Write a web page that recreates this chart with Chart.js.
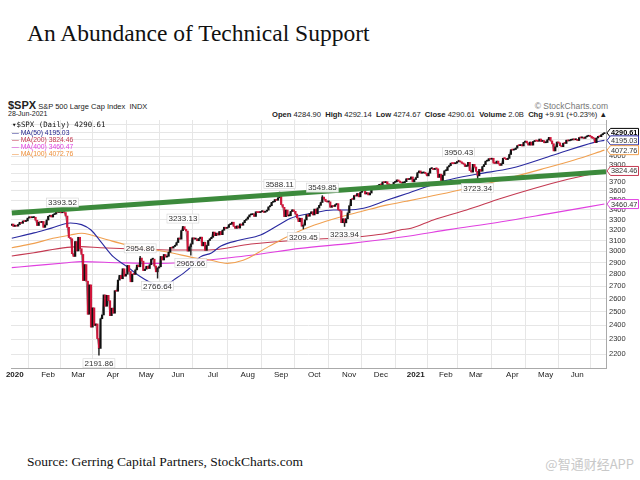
<!DOCTYPE html>
<html>
<head>
<meta charset="utf-8">
<script src="https://cdn.jsdelivr.net/npm/chart.js@4.4.0/dist/chart.umd.min.js"></script>
<style>
body { margin: 0; width: 640px; height: 480px; background: #fff; position: relative; overflow: hidden; font-family: "Liberation Sans", Arial, sans-serif; }
.abs { position: absolute; white-space: nowrap; }
#title { left: 27px; top: 20px; font: 23.5px "Liberation Serif", serif; color: #111; }
#source { left: 27px; top: 454px; font: 13.5px "Liberation Serif", serif; color: #111; }
#mark { right: 6px; top: 454px; font: 13px "Noto Sans CJK SC", sans-serif; color: #c8c8c8; }
#sym { left: 8px; top: 99px; font-size: 7.5px; color: #222; }
#sym b { font-size: 11px; }
#date { left: 8px; top: 110px; font-size: 7px; color: #222; }
#ohlc { right: 33px; top: 110px; font-size: 7.6px; color: #222; }
#copy { right: 32px; top: 101px; font-size: 8.5px; color: #777; }
#leg { left: 12px; top: 120px; line-height: 7px; z-index: 2; }
#leg .p { font: 7.4px "DejaVu Sans Mono", monospace; color: #111; }
#leg .m { font-size: 6.8px; }
#chart { position: absolute; left: 0; top: 100px; }
</style>
</head>
<body>
<div id="title" class="abs">An Abundance of Technical Support</div>
<div id="sym" class="abs"><b>$SPX</b> S&amp;P 500 Large Cap Index &nbsp;INDX</div>
<div id="date" class="abs">28-Jun-2021</div>
<div id="copy" class="abs">© StockCharts.com</div>
<div id="ohlc" class="abs"><b>Open</b> 4284.90 &nbsp;<b>High</b> 4292.14 &nbsp;<b>Low</b> 4274.67 &nbsp;<b>Close</b> 4290.61 &nbsp;<b>Volume</b> 2.0B &nbsp;<b>Chg</b> +9.91 (+0.23%) ▲</div>
<div id="leg" class="abs">
  <div class="p">▾$SPX (Daily) 4290.61</div>
  <div class="m" style="color:#1f1f8a">— MA(50) 4195.03</div>
  <div class="m" style="color:#c43a52">— MA(200) 3824.46</div>
  <div class="m" style="color:#e040e0">— MA(400) 3460.47</div>
  <div class="m" style="color:#ee8f3a">— MA(100) 4072.76</div>
</div>
<canvas id="chart" width="640" height="294"></canvas>
<div id="source" class="abs">Source: Gerring Capital Partners, StockCharts.com</div>
<div id="mark" class="abs">@智通财经APP</div>

<script>
// daily closes, trading day index 0 = 2-Jan-2020 ... 374 = 28-Jun-2021
const firstOpen = 3244.67;
const closes = [
  // Jan 2020
  3257.85, 3234.85, 3246.28, 3237.18, 3253.05, 3274.70, 3265.35, 3288.13, 3283.15, 3289.29, 3316.81,
  3329.62, 3320.79, 3321.75, 3325.54, 3295.47, 3243.63, 3276.24, 3273.40, 3283.66, 3225.52,
  // Feb
  3248.92, 3297.59, 3334.69, 3345.78, 3327.71, 3352.09, 3357.75, 3379.45, 3373.94, 3380.16,
  3370.29, 3386.15, 3373.23, 3337.75, 3225.89, 3128.21, 3116.39, 2978.76, 2954.22,
  // Mar
  3090.23, 3003.37, 3130.12, 3023.94, 2972.37, 2746.56, 2882.23, 2741.38, 2480.64, 2711.02, 2386.13,
  2529.19, 2398.10, 2409.39, 2304.92, 2237.40, 2447.33, 2475.56, 2630.07, 2541.47, 2626.65, 2584.59,
  // Apr
  2470.50, 2526.90, 2488.65, 2663.68, 2659.41, 2749.98, 2789.82, 2761.63, 2846.06, 2783.36, 2799.55,
  2874.56, 2823.16, 2736.56, 2799.31, 2797.80, 2836.74, 2878.48, 2863.39, 2939.51, 2912.43,
  // May
  2830.71, 2842.74, 2868.44, 2848.42, 2881.19, 2929.80, 2930.19, 2870.12, 2820.00, 2852.50,
  2863.70, 2953.91, 2922.94, 2971.61, 2948.51, 2955.45, 2991.77, 3036.13, 3029.73, 3044.31,
  // Jun
  3055.73, 3080.82, 3122.87, 3112.35, 3193.93, 3232.39, 3207.18, 3190.14, 3002.10, 3041.31, 3066.59,
  3124.74, 3113.49, 3115.34, 3097.74, 3117.86, 3131.29, 3050.33, 3083.76, 3009.05, 3053.24, 3100.29,
  // Jul
  3115.86, 3130.01, 3179.72, 3145.32, 3169.94, 3152.05, 3185.04, 3155.22, 3197.52, 3226.56, 3215.57,
  3224.73, 3251.84, 3257.30, 3276.02, 3235.66, 3215.63, 3239.41, 3218.44, 3258.44, 3246.22, 3271.12,
  // Aug
  3294.61, 3306.51, 3327.77, 3349.16, 3351.28, 3360.47, 3333.69, 3380.35, 3373.43, 3372.85, 3381.99,
  3389.78, 3374.85, 3385.51, 3397.16, 3431.28, 3443.62, 3478.73, 3484.55, 3508.01, 3500.31,
  // Sep
  3526.65, 3580.84, 3455.06, 3426.96, 3331.84, 3398.96, 3339.19, 3340.97, 3383.54, 3401.20, 3385.49,
  3357.01, 3319.47, 3281.06, 3315.57, 3236.92, 3246.59, 3298.46, 3351.60, 3335.47, 3363.00,
  // Oct
  3380.80, 3348.42, 3408.60, 3360.97, 3419.44, 3446.83, 3477.14, 3534.22, 3511.93, 3488.67, 3483.34,
  3483.81, 3426.92, 3443.12, 3435.56, 3453.49, 3465.39, 3400.97, 3390.68, 3271.03, 3310.11, 3269.96,
  // Nov
  3310.24, 3369.16, 3443.44, 3510.45, 3509.44, 3550.50, 3545.53, 3572.66, 3537.01, 3585.15,
  3626.91, 3609.53, 3567.79, 3581.87, 3557.54, 3577.59, 3635.41, 3629.65, 3638.35, 3621.63,
  // Dec
  3662.45, 3669.01, 3666.72, 3699.12, 3691.96, 3702.25, 3672.82, 3668.10, 3663.46, 3647.49, 3694.62,
  3701.17, 3722.48, 3709.41, 3694.92, 3687.26, 3690.01, 3703.06, 3735.36, 3727.04, 3732.04, 3756.07,
  // Jan 2021
  3700.65, 3726.86, 3748.14, 3803.79, 3824.68, 3799.61, 3801.19, 3809.84, 3795.54, 3768.25,
  3798.91, 3851.85, 3853.07, 3841.47, 3855.36, 3849.62, 3750.77, 3787.38, 3714.24,
  // Feb
  3773.86, 3826.31, 3830.17, 3871.74, 3886.83, 3915.59, 3911.23, 3909.88, 3916.38, 3934.83,
  3932.59, 3931.33, 3913.97, 3906.71, 3876.50, 3881.37, 3925.43, 3829.34, 3811.15,
  // Mar
  3901.82, 3870.29, 3819.72, 3768.47, 3841.94, 3821.35, 3875.44, 3898.81, 3939.34, 3943.34, 3968.94, 3962.71,
  3974.12, 3915.46, 3913.10, 3940.59, 3910.52, 3889.14, 3909.52, 3974.54, 3971.09, 3958.55, 3972.89,
  // Apr
  4019.87, 4077.91, 4073.94, 4079.95, 4097.17, 4128.80, 4127.99, 4141.59, 4124.66, 4170.42, 4185.47,
  4163.26, 4134.94, 4173.42, 4134.98, 4180.17, 4187.62, 4186.72, 4183.18, 4211.47, 4181.17,
  // May
  4192.66, 4164.66, 4167.59, 4201.62, 4232.60, 4188.43, 4152.10, 4063.04, 4112.50, 4173.85,
  4163.29, 4127.83, 4115.68, 4159.12, 4155.86, 4197.05, 4188.13, 4195.99, 4200.88, 4204.11,
  // Jun
  4202.04, 4208.12, 4192.85, 4229.89, 4226.52, 4227.26, 4219.55, 4239.18, 4247.44, 4255.15,
  4246.59, 4223.70, 4221.86, 4166.45, 4224.79, 4246.44, 4241.84, 4266.49, 4280.70, 4290.61
];

// month axis
const monthStart = [0, 21, 40, 62, 83, 103, 125, 147, 168, 189, 211, 231, 253, 272, 291, 314, 335, 355];
const monthLabels = ['2020', 'Feb', 'Mar', 'Apr', 'May', 'Jun', 'Jul', 'Aug', 'Sep', 'Oct', 'Nov', 'Dec',
                     '2021', 'Feb', 'Mar', 'Apr', 'May', 'Jun'];
const yTicks = [2200, 2300, 2400, 2500, 2600, 2700, 2800, 2900, 3000, 3100, 3200, 3300, 3400, 3500,
                3600, 3700, 3800, 3900, 4000, 4100, 4200, 4300, 4400];

// moving averages
const ma50X = [0, 14, 25, 37, 44, 50, 56, 64, 73, 81, 90, 96, 102, 111, 119, 126, 132, 144, 157, 170, 176,
               189, 203, 212, 222, 237, 249, 273, 294, 315, 342, 367, 374];
const ma50Y = [3121, 3172, 3218, 3268, 3252, 3200, 3092, 2952, 2862, 2780, 2716, 2698, 2750, 2836, 2950,
               2985, 3049, 3104, 3152, 3264, 3315, 3365, 3399, 3399, 3417, 3503, 3570, 3712, 3790, 3855,
               4014, 4166, 4195.03];
const ma100X = [0, 14, 26, 37, 44, 50, 61, 73, 88, 102, 115, 124, 136, 146, 162, 176, 191, 208, 220, 237,
                249, 285, 309, 334, 355, 374];
const ma100Y = [3033, 3073, 3121, 3152, 3168, 3152, 3104, 3058, 3021, 2982, 2943, 2925, 2893, 2920, 3043,
                3152, 3248, 3331, 3381, 3452, 3490, 3618, 3722, 3843, 3953, 4072.76];
const ma200X = [0, 14, 35, 44, 56, 77, 102, 124, 151, 182, 203, 224, 237, 245, 252, 266, 287, 309, 330, 351, 374];
const ma200Y = [2958, 2988, 3036, 3043, 3033, 3021, 3012, 3012, 3067, 3104, 3121, 3142, 3168, 3200, 3216,
                3298, 3399, 3521, 3630, 3729, 3824.46];
const ma400X = [0, 14, 35, 44, 67, 88, 107, 119, 151, 182, 214, 245, 277, 309, 340, 374];
const ma400Y = [2856, 2873, 2899, 2908, 2899, 2893, 2899, 2915, 2965, 3027, 3073, 3130, 3206, 3281, 3365, 3460.47];

// support trendline
const trendX = [0, 375];
const trendY = [3368, 3815];

// labelled swing highs / lows
const swingIdx = [32, 55, 81, 92, 108, 113, 169, 184, 196, 210, 282, 294];
const swingVal = [3393.52, 2191.86, 2954.86, 2766.64, 3233.13, 2965.66, 3588.11, 3209.45, 3549.85, 3233.94, 3950.43, 3723.34];
const swingHigh = [1, 0, 1, 0, 1, 0, 1, 0, 1, 0, 1, 0];

// right edge value tags
const tagVals = [4290.61, 4195.03, 4072.76, 3824.46, 3460.47];
const tagColors = ['#000', '#2a2aa0', '#f0a050', '#c43a52', '#e040e0'];

const RED = '#d0153a';
const candles = closes.map((c, i) => ({ x: i, y: [i === 0 ? firstOpen : closes[i - 1], c] }));
const candleColors = closes.map((c, i) => c >= (i === 0 ? firstOpen : closes[i - 1]) ? '#111' : RED);
const wicks = swingIdx.map((idx, k) => ({ x: idx, y: [closes[idx], swingVal[k]] }));
const pts = (xs, ys) => xs.map((x, i) => ({ x: x, y: ys[i] }));

function maLine(xs, ys, color) {
  return { type: 'line', data: pts(xs, ys), borderColor: color, borderWidth: 1.1, pointRadius: 0,
           tension: 0.4, cubicInterpolationMode: 'monotone', order: 3 };
}

const tagPlugin = {
  id: 'tags',
  afterDraw(chart) {
    const c = chart.ctx, x = chart.scales.x, y = chart.scales.y, area = chart.chartArea;
    c.save();
    // swing labels
    c.font = '8px "Liberation Sans", Arial';
    c.textAlign = 'center';
    c.textBaseline = 'middle';
    swingIdx.forEach((idx, k) => {
      const px = x.getPixelForValue(idx);
      const py = y.getPixelForValue(swingVal[k]) + (swingHigh[k] ? -8 : 8);
      const txt = swingVal[k].toFixed(2);
      const w = c.measureText(txt).width + 3;
      c.fillStyle = 'rgba(255,255,255,0.9)';
      c.fillRect(px - w / 2, py - 4.5, w, 9);
      c.strokeStyle = '#d4d4d4';
      c.lineWidth = 0.6;
      c.strokeRect(px - w / 2, py - 4.5, w, 9);
      c.fillStyle = '#333';
      c.fillText(txt, px, py + 0.5);
    });
    // value tags on the right axis
    c.textAlign = 'left';
    tagVals.forEach((v, k) => {
      const py = y.getPixelForValue(v);
      const tip = area.right + 1;
      c.beginPath();
      c.moveTo(tip, py);
      c.lineTo(tip + 3.5, py - 4.5);
      c.lineTo(638.5, py - 4.5);
      c.lineTo(638.5, py + 4.5);
      c.lineTo(tip + 3.5, py + 4.5);
      c.closePath();
      c.fillStyle = '#fff';
      c.fill();
      c.strokeStyle = tagColors[k];
      c.lineWidth = 1;
      c.stroke();
      c.fillStyle = k === 0 ? '#000' : '#333';
      c.font = (k === 0 ? 'bold ' : '') + '7.3px "Liberation Sans", Arial';
      c.fillText(v.toFixed(2), tip + 4, py + 0.5);
    });
    c.restore();
  }
};

const ctx = document.getElementById('chart').getContext('2d');
const chart = new Chart(ctx, {
  type: 'bar',
  data: {
    datasets: [
      { type: 'line', data: pts(trendX, trendY), borderColor: '#3c8a3c', borderWidth: 5, pointRadius: 0, order: 0 },
      { type: 'bar', data: wicks, backgroundColor: '#222', barThickness: 0.8, grouped: false, order: 1 },
      { type: 'bar', data: candles, backgroundColor: candleColors, barThickness: 1.5, minBarLength: 1,
        grouped: false, order: 1 },
      { type: 'line', data: closes.map((c, i) => ({ x: i, y: c })), borderColor: '#333', borderWidth: 0.6,
        pointRadius: 0, order: 2 },
      maLine(ma50X, ma50Y, '#2a2aa0'),
      maLine(ma100X, ma100Y, '#f0a050'),
      maLine(ma200X, ma200Y, '#c43a52'),
      maLine(ma400X, ma400Y, '#e040e0')
    ]
  },
  options: {
    responsive: false,
    animation: false,
    layout: { padding: { left: 11, top: 20, right: 0, bottom: 0 } },
    plugins: { legend: { display: false }, tooltip: { enabled: false } },
    scales: {
      x: {
        type: 'linear', min: -0.5, max: 375, offset: false,
        grid: { color: '#e6e6e6', drawTicks: false },
        border: { color: '#aaa' },
        afterBuildTicks: s => { s.ticks = monthStart.map(v => ({ value: v })); },
        afterFit: s => { s.height = 26; },
        ticks: {
          autoSkip: false, maxRotation: 0, padding: 2, color: '#222', labelOffset: 3,
          font: c => ({ size: 8, family: '"Liberation Sans", Arial',
                        weight: (c.tick && /^20/.test(monthLabels[monthStart.indexOf(c.tick.value)])) ? 'bold' : 'normal' }),
          callback: v => monthLabels[monthStart.indexOf(v)]
        }
      },
      y: {
        type: 'logarithmic', position: 'right', min: 2109, max: 4461,
        grid: { color: '#e6e6e6', drawTicks: false },
        border: { color: '#aaa' },
        afterBuildTicks: s => { s.ticks = yTicks.map(v => ({ value: v })); },
        afterFit: s => { s.width = 34; },
        ticks: {
          autoSkip: false, padding: 3, color: '#333', font: { size: 7.5, family: '"Liberation Sans", Arial' },
          callback: v => (v > 4250 ? '' : String(v))
        }
      }
    }
  },
  plugins: [tagPlugin]
});
</script>
</body>
</html>
